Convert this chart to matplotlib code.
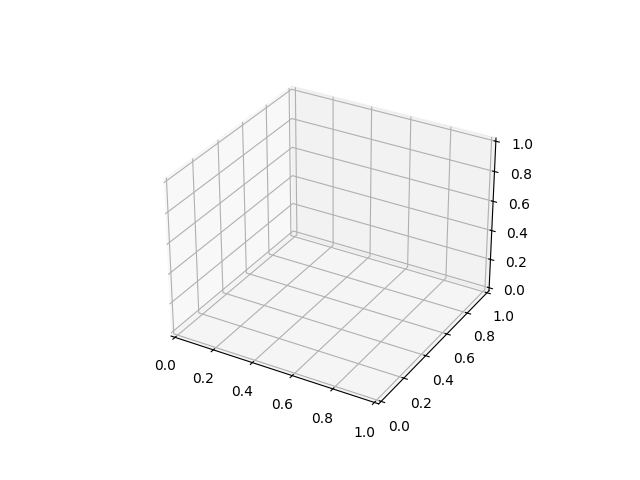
import matplotlib
matplotlib.use("Agg")
import matplotlib.pyplot as plt

# Empty 3D axes: default limits 0.0 to 1.0 on every axis
tick_labels = ["0.0", "0.2", "0.4", "0.6", "0.8", "1.0"]

fig = plt.figure(figsize=(6.4, 4.8), dpi=100)
ax = fig.add_subplot(projection='3d')
fig.savefig("out.png", dpi=100)
